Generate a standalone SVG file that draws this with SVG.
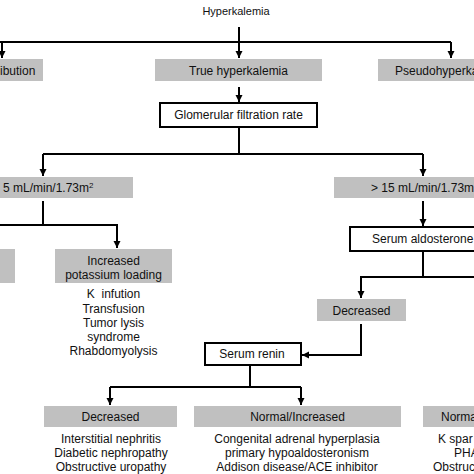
<svg xmlns="http://www.w3.org/2000/svg" width="474" height="474" viewBox="0 0 474 474">
<style>
text{font-family:"Liberation Sans",Arial,sans-serif;font-size:12px;fill:#111;}
.g{fill:#c0c0c0;stroke:none;}
.b{fill:#fff;stroke:#000;stroke-width:2;}
.c{fill:none;stroke:#000;stroke-width:2;}
.m{text-anchor:middle;}
</style>
<defs>
<marker id="ah" markerUnits="userSpaceOnUse" markerWidth="8" markerHeight="8" refX="7" refY="3.5" orient="auto">
<path d="M0,0 L7,3.5 L0,7 z" fill="#000"/>
</marker>
</defs>
<g id="connectors">
<path class="c" d="M239,27 V58" marker-end="url(#ah)"/>
<path class="c" d="M0,42 H451"/>
<path class="c" d="M2,42 V58" marker-end="url(#ah)"/>
<path class="c" d="M451,42 V58" marker-end="url(#ah)"/>
<path class="c" d="M239,87 V102" marker-end="url(#ah)"/>
<path class="c" d="M239,127 V154"/>
<path class="c" d="M43,154 H423"/>
<path class="c" d="M43,154 V176" marker-end="url(#ah)"/>
<path class="c" d="M423,154 V176" marker-end="url(#ah)"/>
<path class="c" d="M43,201 V225"/>
<path class="c" d="M0,225 H117 V248" marker-end="url(#ah)"/>
<path class="c" d="M423,201 V226" marker-end="url(#ah)"/>
<path class="c" d="M423,251 V277"/>
<path class="c" d="M474,277 H361 V298" marker-end="url(#ah)"/>
<path class="c" d="M361,324 V355 H302" marker-end="url(#ah)"/>
<path class="c" d="M250,365 V387"/>
<path class="c" d="M110,387 H301"/>
<path class="c" d="M110,387 V405" marker-end="url(#ah)"/>
<path class="c" d="M301,387 V405" marker-end="url(#ah)"/>
</g>
<g id="hyperkalemia"><text x="236" y="15" class="m" style="font-size:11px">Hyperkalemia</text></g>
<g id="redistribution"><rect class="g" x="-10" y="59" width="53" height="22"/><text x="0" y="75">ibution</text></g>
<g id="true-hyperkalemia"><rect class="g" x="155" y="59" width="167" height="22"/><text x="238.5" y="75" class="m">True hyperkalemia</text></g>
<g id="pseudohyperkalemia"><rect class="g" x="378" y="59" width="110" height="22"/><text x="395" y="75">Pseudohyperka</text></g>
<g id="gfr"><rect class="b" x="160" y="103" width="157" height="24"/><text x="238.5" y="119" class="m">Glomerular filtration rate</text></g>
<g id="gfr-low"><rect class="g" x="-10" y="177" width="143" height="21"/><text x="3" y="192">5 mL/min/1.73m<tspan dy="-4" style="font-size:8px">2</tspan></text></g>
<g id="gfr-high"><rect class="g" x="334" y="177" width="150" height="21"/><text x="371" y="192">&gt; 15 mL/min/1.73m</text></g>
<g id="left-small"><rect class="g" x="-10" y="249" width="25" height="34"/></g>
<g id="potassium-loading"><rect class="g" x="55" y="249" width="117" height="34"/>
<text x="113.5" y="265" class="m">Increased</text>
<text x="113.5" y="279" class="m">potassium loading</text>
<text x="113.5" y="298" class="m" style="white-space:pre">K  infution</text>
<text x="113.5" y="313" class="m">Transfusion</text>
<text x="113.5" y="327" class="m">Tumor lysis</text>
<text x="113.5" y="341" class="m">syndrome</text>
<text x="113.5" y="355" class="m">Rhabdomyolysis</text>
</g>
<g id="serum-aldosterone"><rect class="b" x="350" y="227" width="140" height="24"/><text x="372" y="243">Serum aldosterone</text></g>
<g id="aldo-decreased"><rect class="g" x="317" y="299" width="89" height="22"/><text x="361.5" y="315" class="m">Decreased</text></g>
<g id="serum-renin"><rect class="b" x="205" y="343" width="96" height="22"/><text x="252" y="358" class="m">Serum renin</text></g>
<g id="renin-decreased"><rect class="g" x="44" y="406" width="133" height="21"/>
<text x="110.5" y="421" class="m">Decreased</text>
<text x="111" y="443" class="m">Interstitial nephritis</text>
<text x="111" y="457" class="m">Diabetic nephropathy</text>
<text x="111" y="471" class="m">Obstructive uropathy</text>
</g>
<g id="renin-normal"><rect class="g" x="194" y="406" width="207" height="21"/>
<text x="297.5" y="421" class="m">Normal/Increased</text>
<text x="297" y="443" class="m">Congenital adrenal hyperplasia</text>
<text x="297" y="457" class="m">primary hypoaldosteronism</text>
<text x="297" y="471" class="m">Addison disease/ACE inhibitor</text>
</g>
<g id="aldo-normal"><rect class="g" x="423" y="406" width="60" height="21"/>
<text x="441" y="421">Norma</text>
<text x="438" y="443">K spar</text>
<text x="454" y="457">PHA</text>
<text x="433" y="471">Obstruc</text>
</g>
</svg>
